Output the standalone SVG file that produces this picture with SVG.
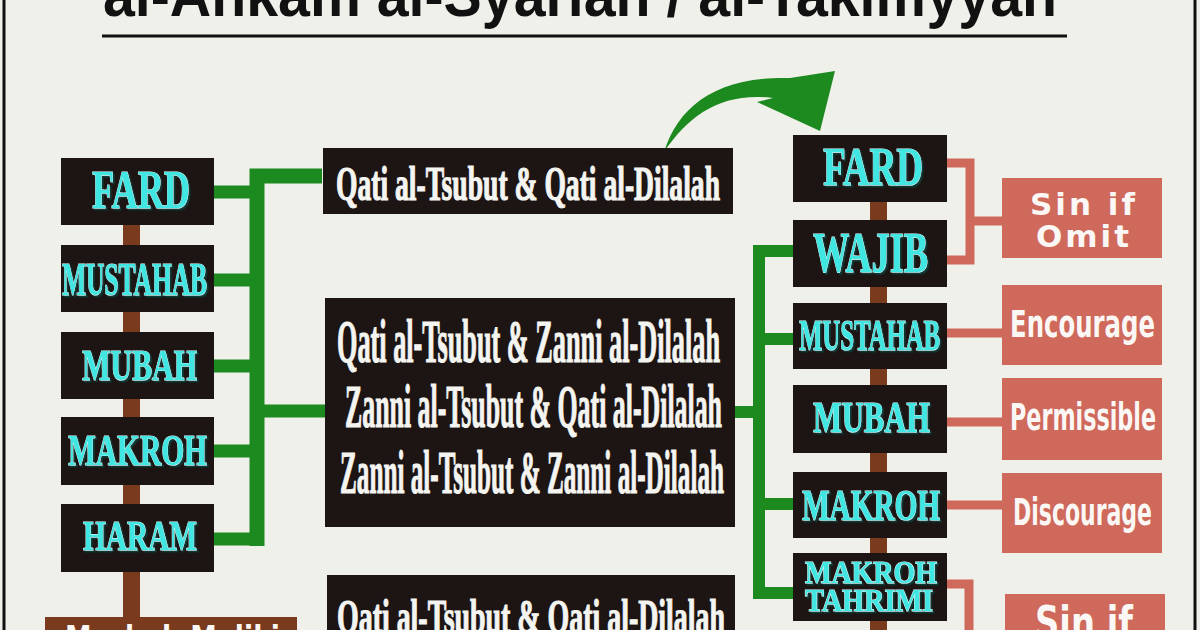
<svg xmlns="http://www.w3.org/2000/svg" width="1200" height="630" viewBox="0 0 1200 630">
<defs>
<filter id="ds" x="-10%" y="-20%" width="120%" height="140%">
<feDropShadow dx="1.8" dy="1.8" stdDeviation="0.3" flood-color="#0a3a38" flood-opacity="1"/>
</filter>
<style>
.bg{fill:#f0f0eb}
.blk{fill:#1d1514}
.pole{fill:#7a3a1e}
.sal{fill:#cf695b}
.cy{font-family:"Liberation Serif",serif;font-weight:bold;fill:#3fe6e2;stroke:#d4f6f5;stroke-width:1.2;paint-order:stroke;filter:url(#ds)}
.wt{font-family:"Liberation Serif",serif;font-weight:bold;fill:#f4f4f0;stroke:#f4f4f0;stroke-width:1.2}
.ws{font-family:"DejaVu Sans","Liberation Sans",sans-serif;font-weight:bold;fill:#fbf7f5}
.gr{fill:none;stroke:#1d8a1f;stroke-linejoin:miter;stroke-linecap:butt}
.sl{fill:none;stroke:#cf695b;stroke-width:9;stroke-linecap:butt}
</style>
</defs>
<rect class="bg" x="0" y="0" width="1200" height="630"/>
<rect x="4" y="-10" width="1191" height="660" fill="none" stroke="#111" stroke-width="3"/>

<g id="title">
<text x="103" y="16" font-family="'Liberation Sans',sans-serif" font-weight="bold" font-size="62" fill="#111" textLength="954" lengthAdjust="spacingAndGlyphs">al-Ahkam al-Syariah / al-Taklifiyyah</text>
<line x1="102" y1="36" x2="1067" y2="36" stroke="#111" stroke-width="3"/>
</g>

<g id="connectors">
<path class="gr" stroke-width="15" d="M322,176 H257 V546"/>
<path class="gr" stroke-width="13" d="M214,192 H257 M214,280 H257 M214,366 H257 M214,451 H257 M214,539 H264 M257,411 H325"/>
<path class="gr" stroke-width="12" d="M793,251 H759 V593 H793 M759,339 H793 M759,504 H793 M735,412 H759"/>
<path class="sl" d="M947,163 H970 V260 H947 M970,221 H1002 M947,333 H1002 M947,422 H1002 M947,505 H1002 M947,584 H969 V640"/>
<path fill="#1d8a1f" d="M662,160 C674,110 712,76 790,78 L835,71 L820,131 L757,102 L773,98 C722,92 690,114 664,152 Z"/>
<rect class="pole" x="123" y="225" width="17" height="20"/>
<rect class="pole" x="123" y="312" width="17" height="20"/>
<rect class="pole" x="123" y="399" width="17" height="18"/>
<rect class="pole" x="123" y="485" width="17" height="19"/>
<rect class="pole" x="123" y="572" width="17" height="45"/>
<rect class="pole" x="870" y="202" width="17" height="18"/>
<rect class="pole" x="870" y="287" width="17" height="16"/>
<rect class="pole" x="870" y="369" width="17" height="16"/>
<rect class="pole" x="870" y="453" width="17" height="19"/>
<rect class="pole" x="870" y="538" width="17" height="15"/>
<rect class="pole" x="870" y="621" width="17" height="12"/>
</g>

<g id="l-fard"><rect class="blk" x="61" y="158" width="153" height="67"/>
<text class="cy" x="92" y="208" font-size="54" textLength="98" lengthAdjust="spacingAndGlyphs">FARD</text></g>
<g id="l-mustahab"><rect class="blk" x="61" y="245" width="153" height="67"/>
<text class="cy" x="62" y="295" font-size="46" textLength="145" lengthAdjust="spacingAndGlyphs">MUSTAHAB</text></g>
<g id="l-mubah"><rect class="blk" x="61" y="332" width="153" height="67"/>
<text class="cy" x="82" y="380" font-size="44" textLength="115" lengthAdjust="spacingAndGlyphs">MUBAH</text></g>
<g id="l-makroh"><rect class="blk" x="61" y="417" width="153" height="68"/>
<text class="cy" x="68" y="465" font-size="44" textLength="139" lengthAdjust="spacingAndGlyphs">MAKROH</text></g>
<g id="l-haram"><rect class="blk" x="61" y="504" width="153" height="68"/>
<text class="cy" x="83" y="550" font-size="42" textLength="114" lengthAdjust="spacingAndGlyphs">HARAM</text></g>
<g id="l-bottom"><rect class="pole" x="45" y="617" width="252" height="30"/>
<text class="ws" x="65" y="650" font-size="34" textLength="215" lengthAdjust="spacingAndGlyphs">Mazhab Maliki</text></g>

<g id="m-qq1"><rect class="blk" x="323" y="148" width="410" height="66"/>
<text class="wt" x="336" y="200" font-size="48" textLength="384" lengthAdjust="spacingAndGlyphs">Qati al-Tsubut &amp; Qati al-Dilalah</text></g>
<g id="m-mix"><rect class="blk" x="325" y="298" width="410" height="229"/>
<text class="wt" x="337" y="362" font-size="62" textLength="383" lengthAdjust="spacingAndGlyphs">Qati al-Tsubut &amp; Zanni al-Dilalah</text>
<text class="wt" x="345" y="427" font-size="62" textLength="377" lengthAdjust="spacingAndGlyphs">Zanni al-Tsubut &amp; Qati al-Dilalah</text>
<text class="wt" x="340" y="493" font-size="62" textLength="384" lengthAdjust="spacingAndGlyphs">Zanni al-Tsubut &amp; Zanni al-Dilalah</text></g>
<g id="m-qq2"><rect class="blk" x="327" y="575" width="408" height="70"/>
<text class="wt" x="337" y="633" font-size="48" textLength="388" lengthAdjust="spacingAndGlyphs">Qati al-Tsubut &amp; Qati al-Dilalah</text></g>

<g id="r-fard"><rect class="blk" x="793" y="135" width="154" height="67"/>
<text class="cy" x="823" y="185" font-size="55" textLength="100" lengthAdjust="spacingAndGlyphs">FARD</text></g>
<g id="r-wajib"><rect class="blk" x="793" y="220" width="154" height="67"/>
<text class="cy" x="813" y="272" font-size="56" textLength="115" lengthAdjust="spacingAndGlyphs">WAJIB</text></g>
<g id="r-mustahab"><rect class="blk" x="793" y="303" width="154" height="66"/>
<text class="cy" x="799" y="350" font-size="44" textLength="141" lengthAdjust="spacingAndGlyphs">MUSTAHAB</text></g>
<g id="r-mubah"><rect class="blk" x="793" y="385" width="154" height="68"/>
<text class="cy" x="813" y="432" font-size="44" textLength="117" lengthAdjust="spacingAndGlyphs">MUBAH</text></g>
<g id="r-makroh"><rect class="blk" x="793" y="472" width="154" height="66"/>
<text class="cy" x="802" y="520" font-size="44" textLength="138" lengthAdjust="spacingAndGlyphs">MAKROH</text></g>
<g id="r-tahrimi"><rect class="blk" x="793" y="553" width="154" height="68"/>
<text class="cy" x="805" y="583" font-size="31" textLength="132" lengthAdjust="spacingAndGlyphs">MAKROH</text>
<text class="cy" x="805" y="611" font-size="32" textLength="128" lengthAdjust="spacingAndGlyphs">TAHRIMI</text></g>

<g id="s-sin"><rect class="sal" x="1002" y="178" width="160" height="80"/>
<text class="ws" x="1084" y="215" font-size="31" text-anchor="middle" letter-spacing="3">Sin if</text>
<text class="ws" x="1084" y="247" font-size="31" text-anchor="middle" letter-spacing="3">Omit</text></g>
<g id="s-encourage"><rect class="sal" x="1002" y="285" width="160" height="80"/>
<text class="ws" x="1010" y="337" font-size="37" textLength="145" lengthAdjust="spacingAndGlyphs">Encourage</text></g>
<g id="s-permissible"><rect class="sal" x="1002" y="378" width="160" height="82"/>
<text class="ws" x="1010" y="430" font-size="37" textLength="146" lengthAdjust="spacingAndGlyphs">Permissible</text></g>
<g id="s-discourage"><rect class="sal" x="1002" y="473" width="160" height="80"/>
<text class="ws" x="1013" y="525" font-size="37" textLength="139" lengthAdjust="spacingAndGlyphs">Discourage</text></g>
<g id="s-sin2"><rect class="sal" x="1005" y="594" width="160" height="50"/>
<text class="ws" x="1035" y="638" font-size="44" textLength="98" lengthAdjust="spacingAndGlyphs">Sin if</text></g>
</svg>
